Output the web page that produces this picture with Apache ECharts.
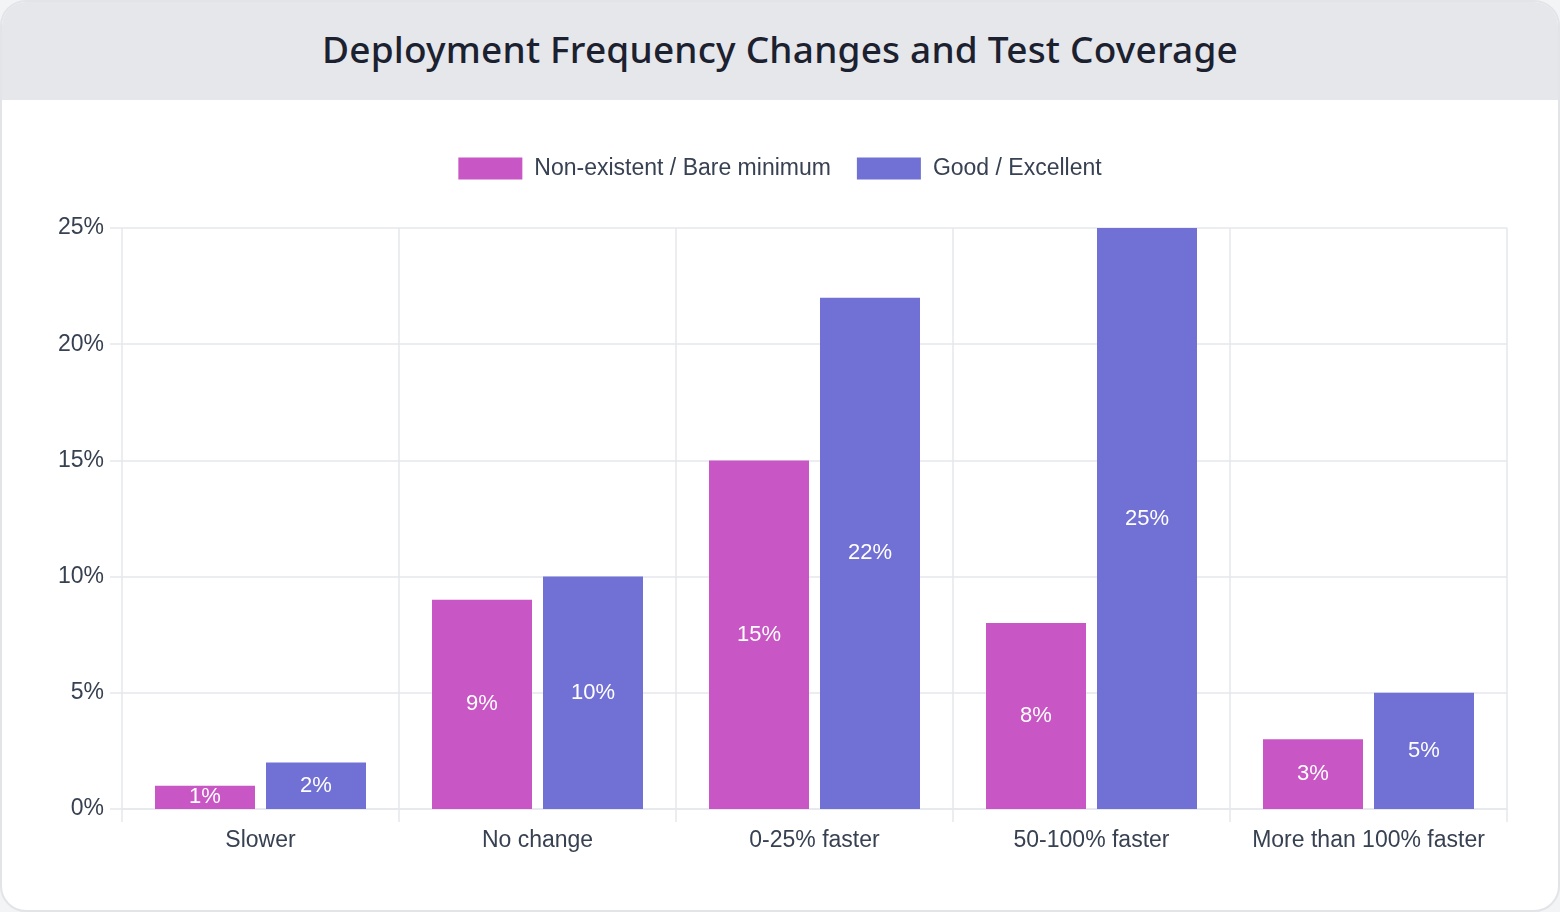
<!DOCTYPE html>
<html>
<head>
<meta charset="utf-8">
<script src="https://cdn.jsdelivr.net/npm/echarts@6/dist/echarts.min.js"></script>
<style>
  html, body { margin: 0; padding: 0; width: 1560px; height: 912px; background: #f3f4f6; overflow: hidden; }
  #card { position: absolute; left: 0; top: 0; width: 1556px; height: 908px; background: #ffffff; border: 2px solid #e2e4e8; border-radius: 26px; overflow: hidden; }
  #header { position: absolute; left: 0; top: 0; width: 100%; height: 92px; padding-bottom: 6px; background: #e6e7eb; display: flex; align-items: center; justify-content: center; font-family: "Noto Sans", sans-serif; font-size: 37px; font-weight: 500; color: #1c2130; letter-spacing: 0.2px; }
  #chart { position: absolute; left: 0; top: 0; width: 1560px; height: 912px; }
</style>
</head>
<body>
<div id="card"><div id="header">Deployment Frequency Changes and Test Coverage</div></div>
<div id="chart"></div>
<script>
const categories = ["Slower", "No change", "0-25% faster", "50-100% faster", "More than 100% faster"];
const seriesNames = ["Non-existent / Bare minimum", "Good / Excellent"];
const bareMinimum = [1, 9, 15, 8, 3];
const goodExcellent = [2, 10, 22, 25, 5];
const yTicks = { min: 0, max: 25, interval: 5 };

const chart = echarts.init(document.getElementById('chart'), null, { renderer: 'canvas' });
const textColor = '#374151';
const gridColor = '#e5e7eb';
const font = '"Liberation Sans", Arial, sans-serif';

const labelStyle = {
  show: true,
  position: 'inside',
  color: '#ffffff',
  fontSize: 22,
  fontFamily: font,
  formatter: p => p.value + '%'
};

chart.setOption({
  animation: false,
  legend: {
    top: 152,
    left: 'center',
    itemWidth: 64,
    itemHeight: 22,
    itemGap: 26,
    icon: 'rect',
    textStyle: { color: textColor, fontSize: 23, fontFamily: font, padding: [0, 0, 0, 7] },
    data: seriesNames
  },
  grid: { left: 122, right: 53, top: 228, bottom: 103, containLabel: false },
  xAxis: {
    type: 'category',
    data: categories,
    axisLine: { show: true, lineStyle: { color: gridColor, width: 1.5 } },
    axisTick: { show: true, interval: 0, length: 13, lineStyle: { color: gridColor, width: 1.5 } },
    splitLine: { show: true, interval: 0, lineStyle: { color: gridColor, width: 1.5 } },
    axisLabel: { interval: 0, color: textColor, fontSize: 23, fontFamily: font, margin: 20 }
  },
  yAxis: {
    type: 'value',
    min: yTicks.min,
    max: yTicks.max,
    interval: yTicks.interval,
    axisLine: { show: false },
    axisTick: { show: true, length: 12, lineStyle: { color: gridColor, width: 1.5 } },
    splitLine: { show: true, lineStyle: { color: gridColor, width: 1.5 } },
    axisLabel: { color: textColor, fontSize: 23, fontFamily: font, margin: 18, formatter: '{value}%' }
  },
  series: [
    {
      name: seriesNames[0], type: 'bar', data: bareMinimum, barWidth: 100, barGap: '11%',
      itemStyle: { color: '#c856c4' }, label: labelStyle
    },
    {
      name: seriesNames[1], type: 'bar', data: goodExcellent, barWidth: 100,
      itemStyle: { color: '#7170d4' }, label: labelStyle
    }
  ]
});
</script>
</body>
</html>
